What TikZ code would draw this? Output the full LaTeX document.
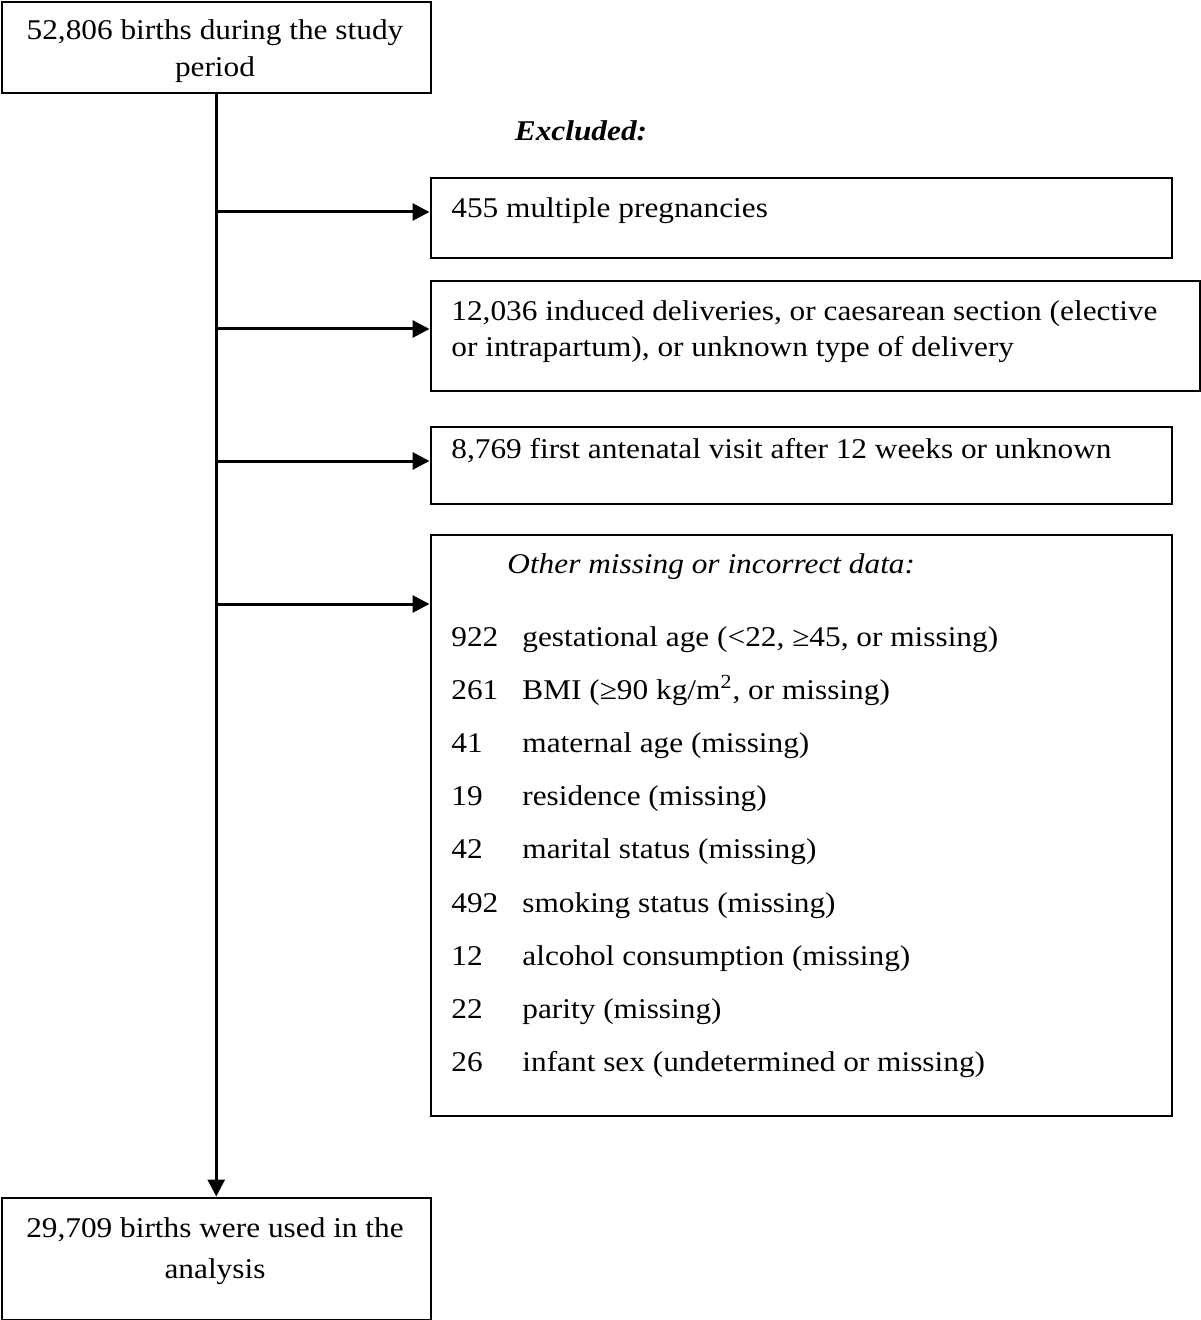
\documentclass[tikz,border=0pt]{standalone}
\usepackage{fontspec}
\setmainfont{Liberation Serif}[FakeStretch=1.095]
\usetikzlibrary{arrows.meta}
\begin{document}
\begin{tikzpicture}[x=0.5pt,y=-0.5pt,
  box/.style={draw,line width=1pt,inner sep=0pt,anchor=north west},
  txt/.style={anchor=base west,inner sep=0pt,font=\fontsize{14.3pt}{18pt}\selectfont},
  ctxt/.style={anchor=base,inner sep=0pt,align=center,font=\fontsize{14.3pt}{18pt}\selectfont},
  flow/.style={line width=1.5pt},
  arr/.style={line width=1.5pt,-{Triangle[length=8.5pt,width=8.5pt]}}]
\useasboundingbox (0,0) rectangle (1200,1320);
% boxes
\node[box,minimum width=214.25pt,minimum height=45.5pt] (top) at (1,1) {};
\node[box,minimum width=214.25pt,minimum height=61pt] (bot) at (1,1196.5) {};
\node[box,minimum width=370.5pt,minimum height=40pt] (A) at (429.5,177.5) {};
\node[box,minimum width=384.5pt,minimum height=55pt] (B) at (429.5,280.5) {};
\node[box,minimum width=370.5pt,minimum height=38.5pt] (C) at (429.5,425.5) {};
\node[box,minimum width=370.5pt,minimum height=290.5pt] (D) at (429.5,533.5) {};
% texts
\node[ctxt] (t1) at (215,40) {52,806 births during the study};
\node[ctxt] (t2) at (215,77) {period};
\node[ctxt] (b1) at (215,1237) {29,709 births were used in the};
\node[ctxt] (b2) at (215,1278) {analysis};
\node[ctxt,font=\fontsize{14.3pt}{18pt}\selectfont\bfseries\itshape] (ex) at (581,141) {Excluded:};
\node[txt] (ta) at (451,218) {455 multiple pregnancies};
\node[txt] (tb1) at (451,321) {12,036 induced deliveries, or caesarean section (elective};
\node[txt] (tb2) at (451,357) {or intrapartum), or unknown type of delivery};
\node[txt] (tc) at (451,458) {8,769 first antenatal visit after 12 weeks or unknown};
\node[txt,font=\fontsize{14.3pt}{18pt}\selectfont\itshape] (td) at (507,573) {Other missing or incorrect data:};
\foreach \n/\d/\y [count=\i] in {922/{gestational age (<22, ≥45, or missing)}/646,
  261/{BMI (≥90 kg/m\textsuperscript{2}, or missing)}/699,
  41/{maternal age (missing)}/752,
  19/{residence (missing)}/805,
  42/{marital status (missing)}/858,
  492/{smoking status (missing)}/912,
  12/{alcohol consumption (missing)}/965,
  22/{parity (missing)}/1018,
  26/{infant sex (undetermined or missing)}/1071}{
  \node[txt] (n\i) at (451,\y) {\n};
  \node[txt] (d\i) at (522,\y) {\d};
}
% connectors
\coordinate (ja) at (215,212);
\coordinate (jb) at (215,329);
\coordinate (jc) at (215,461);
\coordinate (jd) at (215,604);
\draw[arr] (top.south) -- (bot.north);
\draw[arr] (ja) -- (ja -| A.west);
\draw[arr] (jb) -- (jb -| B.west);
\draw[arr] (jc) -- (jc -| C.west);
\draw[arr] (jd) -- (jd -| D.west);
\end{tikzpicture}
\end{document}
